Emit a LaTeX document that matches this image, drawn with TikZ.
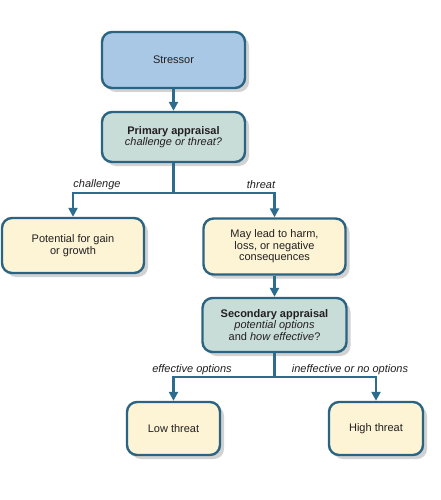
\documentclass[tikz,border=0pt]{standalone}
\usepackage{fontspec}
\setmainfont{Liberation Sans}
\usetikzlibrary{arrows.meta,shadows}
\definecolor{bordc}{HTML}{2B6483}
\definecolor{arrc}{HTML}{2E6C8E}
\definecolor{bluef}{HTML}{A8C8E5}
\definecolor{grayf}{HTML}{C8DCD8}
\definecolor{yelf}{HTML}{FCF4D5}
\definecolor{txtc}{HTML}{231F20}
\begin{document}
\begin{tikzpicture}[x=1pt,y=-1pt,
  box/.style={draw=bordc, line width=2.4pt, rounded corners=10pt, align=center,
    text=txtc, font=\fontsize{11}{11.4}\selectfont, inner sep=0pt,
    drop shadow={shadow xshift=4pt, shadow yshift=-4pt, opacity=0.25, fill=black!70}},
  bluebox/.style={box, fill=bluef},
  graybox/.style={box, fill=grayf},
  yelbox/.style={box, fill=yelf},
  conn/.style={draw=arrc, line width=2.4pt, -{Triangle[width=9pt,length=9pt]}},
  line/.style={draw=arrc, line width=2.4pt},
  lab/.style={font=\fontsize{11}{12}\selectfont\itshape, text=txtc, inner sep=0pt}]
\useasboundingbox[fill=white] (0,0) rectangle (440,500);

\node[bluebox, minimum width=143pt, minimum height=56pt] (stressor) at (173.5,60) {Stressor};
\node[graybox, minimum width=143pt, minimum height=50pt] (primary) at (173.5,137)
  {\textbf{Primary appraisal}\\\textit{challenge or threat?}};
\node[yelbox, minimum width=142pt, minimum height=55pt] (potential) at (73,245.5)
  {Potential for gain\\or growth};
\node[yelbox, minimum width=142pt, minimum height=56pt] (maylead) at (274.5,246.5)
  {May lead to harm,\\loss, or negative\\consequences};
\node[graybox, minimum width=144pt, minimum height=54pt] (secondary) at (274.5,325)
  {\textbf{Secondary appraisal}\\\textit{potential options}\\and \textit{how effective}?};
\node[yelbox, minimum width=93pt, minimum height=53pt] (low) at (173.5,428.5) {Low threat};
\node[yelbox, minimum width=94pt, minimum height=53pt] (high) at (376,428.5) {High threat};

\coordinate (j1) at (173.5,193);
\coordinate (j2) at (274.5,377);

\draw[conn] (stressor.south) -- (primary.north);
\draw[line] (primary.south) -- (j1);
\draw[conn] (j1) -| (potential.north);
\draw[conn] (j1) -| (maylead.north);
\draw[conn] (maylead.south) -- (secondary.north);
\draw[line] (secondary.south) -- (j2);
\draw[conn] (j2) -| (low.north);
\draw[conn] (j2) -| (high.north);

\node[lab] (lchal) at (97,185) {challenge};
\node[lab] (lthr) at (261,185) {threat};
\node[lab] (leff) at (192,369.5) {effective options};
\node[lab] (lineff) at (350,369.5) {ineffective or no options};
\end{tikzpicture}
\end{document}
